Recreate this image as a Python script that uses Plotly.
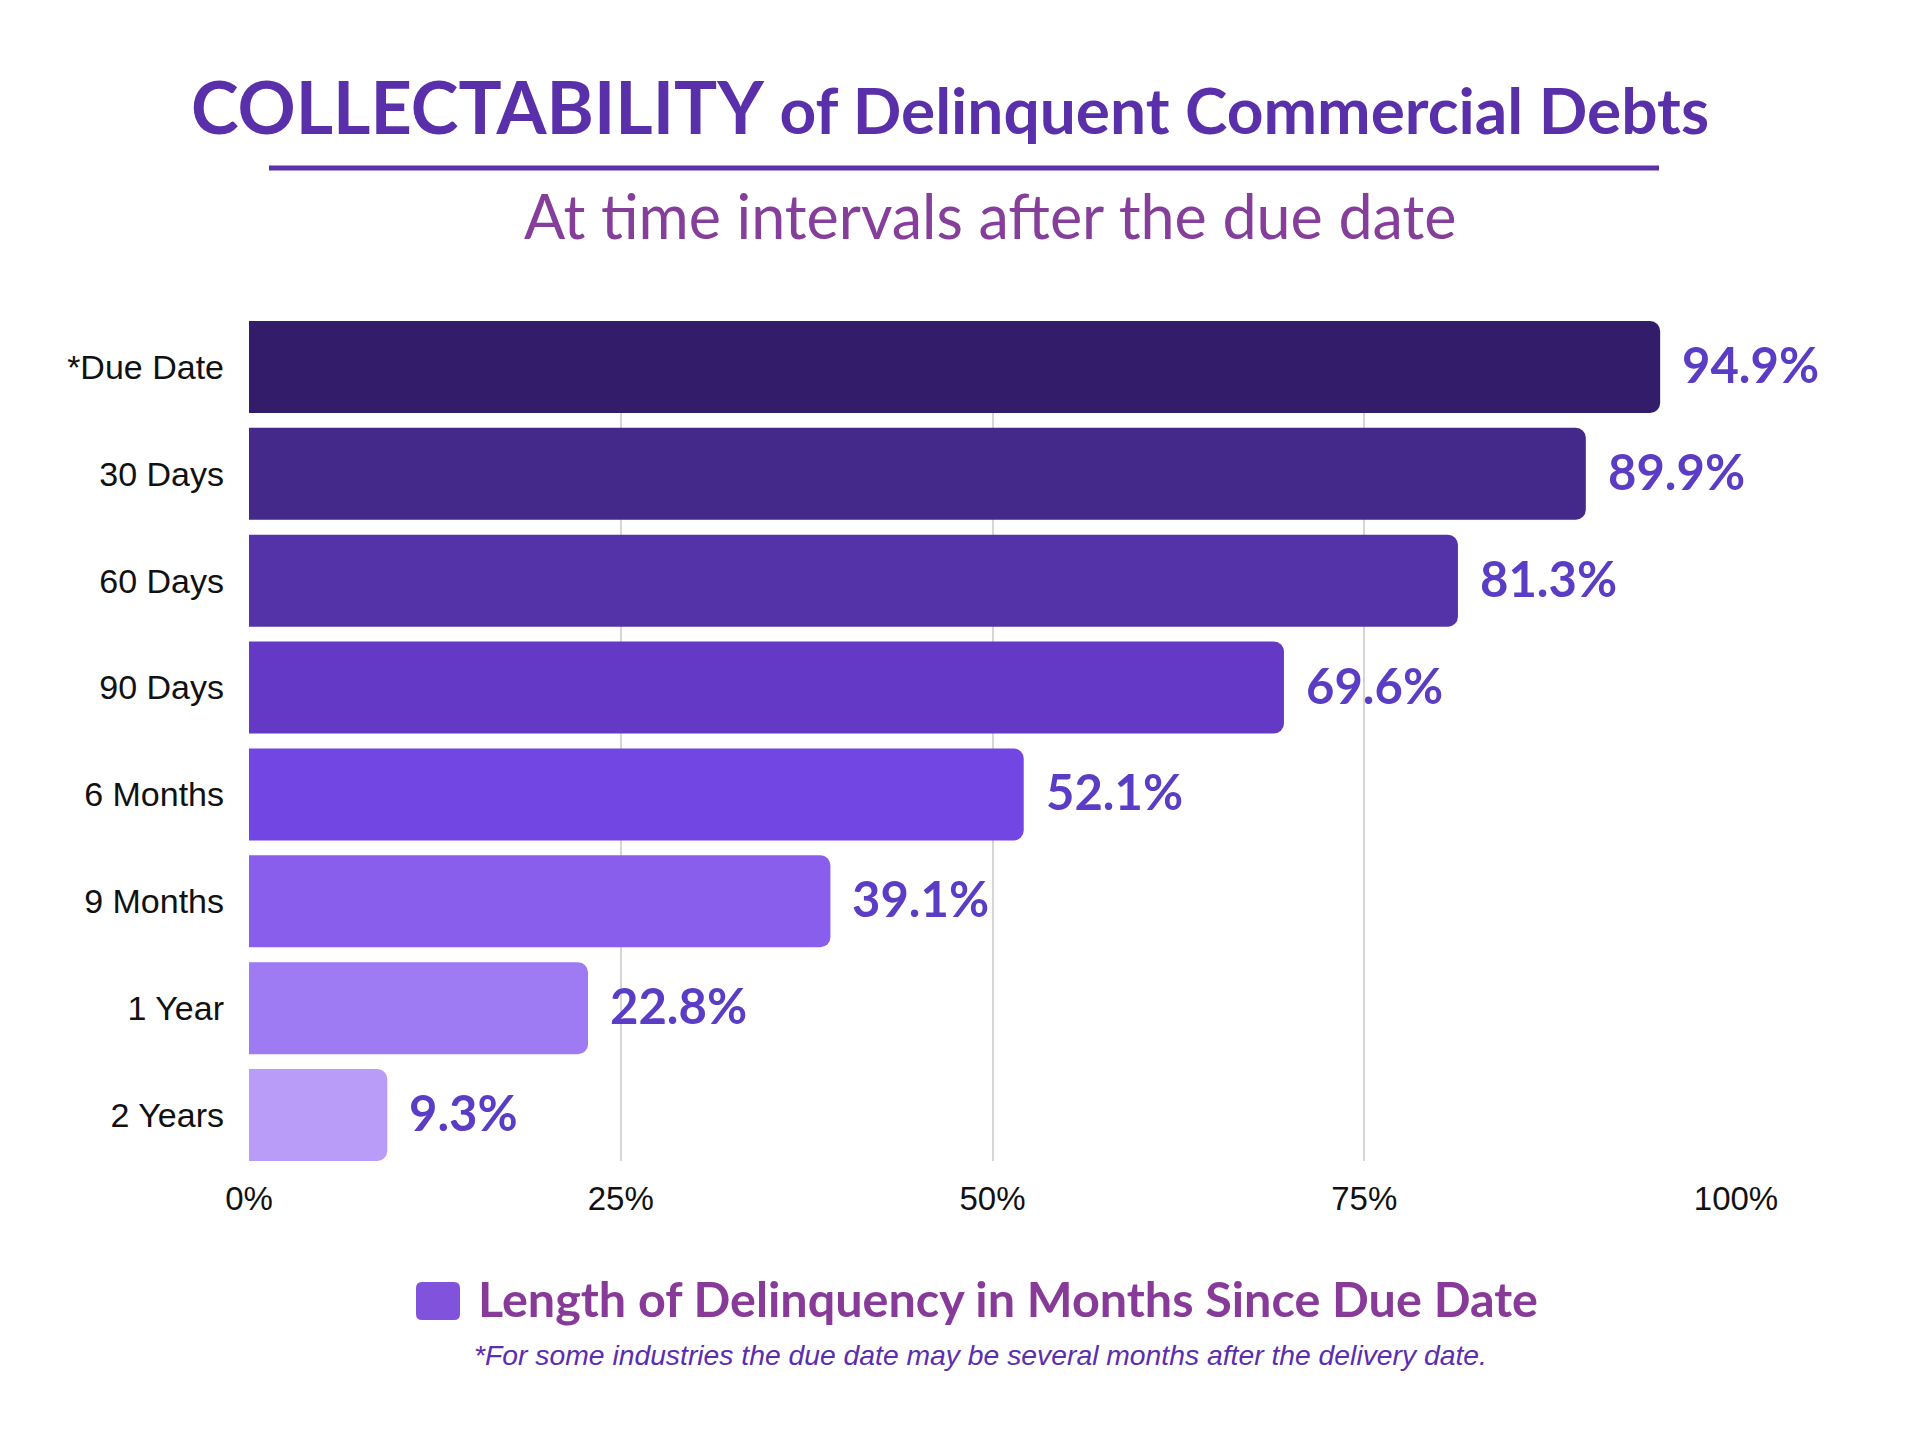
import plotly.graph_objects as go

categories = ["*Due Date", "30 Days", "60 Days", "90 Days", "6 Months", "9 Months", "1 Year", "2 Years"]
values = [94.9, 89.9, 81.3, 69.6, 52.1, 39.1, 22.8, 9.3]
value_labels = ["94.9%", "89.9%", "81.3%", "69.6%", "52.1%", "39.1%", "22.8%", "9.3%"]
bar_colors = ["#331D6A", "#45298A", "#5433A9", "#6339C6", "#7246E2", "#8A5EEC", "#9E7BF2", "#B89CF7"]
x_ticks = [0, 25, 50, 75, 100]
x_tick_labels = ["0%", "25%", "50%", "75%", "100%"]

W, H = 1920, 1439
L, R, T, B = 249, 1736, 321, 1161
PW, PH = R - L, B - T


def px(x):
    return (x - L) / PW


def py(y):
    return (B - y) / PH


fig = go.Figure()
fig.add_trace(go.Bar(
    x=values, y=categories, orientation="h",
    marker=dict(color=bar_colors, line=dict(width=0), cornerradius=10),
    width=0.86, showlegend=False, hoverinfo="skip", cliponaxis=False,
))

annotations = []
for c, v, t in zip(categories, values, value_labels):
    annotations.append(dict(
        x=v, y=c, xref="x", yref="y", text=t, showarrow=False,
        xanchor="left", yanchor="middle", xshift=20, yshift=3,
        font=dict(family="Lato", size=49, color="#5B3CC4", weight="bold"),
    ))

title_html = ('<b><span style="font-size:72px">COLLECTABILITY</span>'
              '<span style="font-size:64px"> of Delinquent Commercial Debts</span></b>')
annotations += [
    dict(x=px(950), y=py(106), xref="paper", yref="paper", text=title_html, showarrow=False,
         xanchor="center", yanchor="middle", font=dict(family="Lato", size=64, color="#5A2FAA")),
    dict(x=px(990), y=py(215), xref="paper", yref="paper", text="At time intervals after the due date",
         showarrow=False, xanchor="center", yanchor="middle",
         font=dict(family="Lato", size=61, color="#853E99")),
    dict(x=px(476), y=py(1298), xref="paper", yref="paper",
         text="<b>Length of Delinquency in Months Since Due Date</b>", showarrow=False,
         xanchor="left", yanchor="middle", font=dict(family="Lato", size=48.5, color="#883A98")),
    dict(x=px(980), y=py(1355), xref="paper", yref="paper",
         text="<i>*For some industries the due date may be several months after the delivery date.</i>",
         showarrow=False, xanchor="center", yanchor="middle",
         font=dict(family="Liberation Sans", size=28.3, color="#5B2DB0")),
]

x0, x1, y0, y1, r = px(416), px(460), py(1282), py(1320), 6 / PW
ry = 6 / PH
swatch = (f"M {x0 + r},{y0} L {x1 - r},{y0} Q {x1},{y0} {x1},{y0 - ry} L {x1},{y1 + ry} "
          f"Q {x1},{y1} {x1 - r},{y1} L {x0 + r},{y1} Q {x0},{y1} {x0},{y1 + ry} "
          f"L {x0},{y0 - ry} Q {x0},{y0} {x0 + r},{y0} Z")

shapes = [
    dict(type="line", xref="paper", yref="paper", x0=px(269), x1=px(1659), y0=py(168), y1=py(168),
         line=dict(color="#5A32A8", width=5)),
    dict(type="path", xref="paper", yref="paper", path=swatch, fillcolor="#8152DC",
         line=dict(width=0)),
]

fig.update_layout(
    width=W, height=H,
    margin=dict(l=L, r=W - R, t=T, b=H - B, pad=0),
    paper_bgcolor="white", plot_bgcolor="white",
    bargap=0.14,
    xaxis=dict(range=[0, 100], tickvals=x_ticks, ticktext=x_tick_labels,
               showgrid=True, gridcolor="#D6D6D6", gridwidth=1.5, zeroline=False,
               showline=False, ticks="", ticklabelstandoff=15,
               tickfont=dict(family="Liberation Sans", size=33, color="#111111")),
    yaxis=dict(type="category", range=[7.43, -0.43], showgrid=False, zeroline=False,
               showline=False, ticks="", ticklabelstandoff=24,
               tickfont=dict(family="Liberation Sans", size=34, color="#111111")),
    annotations=annotations, shapes=shapes,
    font=dict(family="Liberation Sans"),
)

fig.write_html("out.html")
